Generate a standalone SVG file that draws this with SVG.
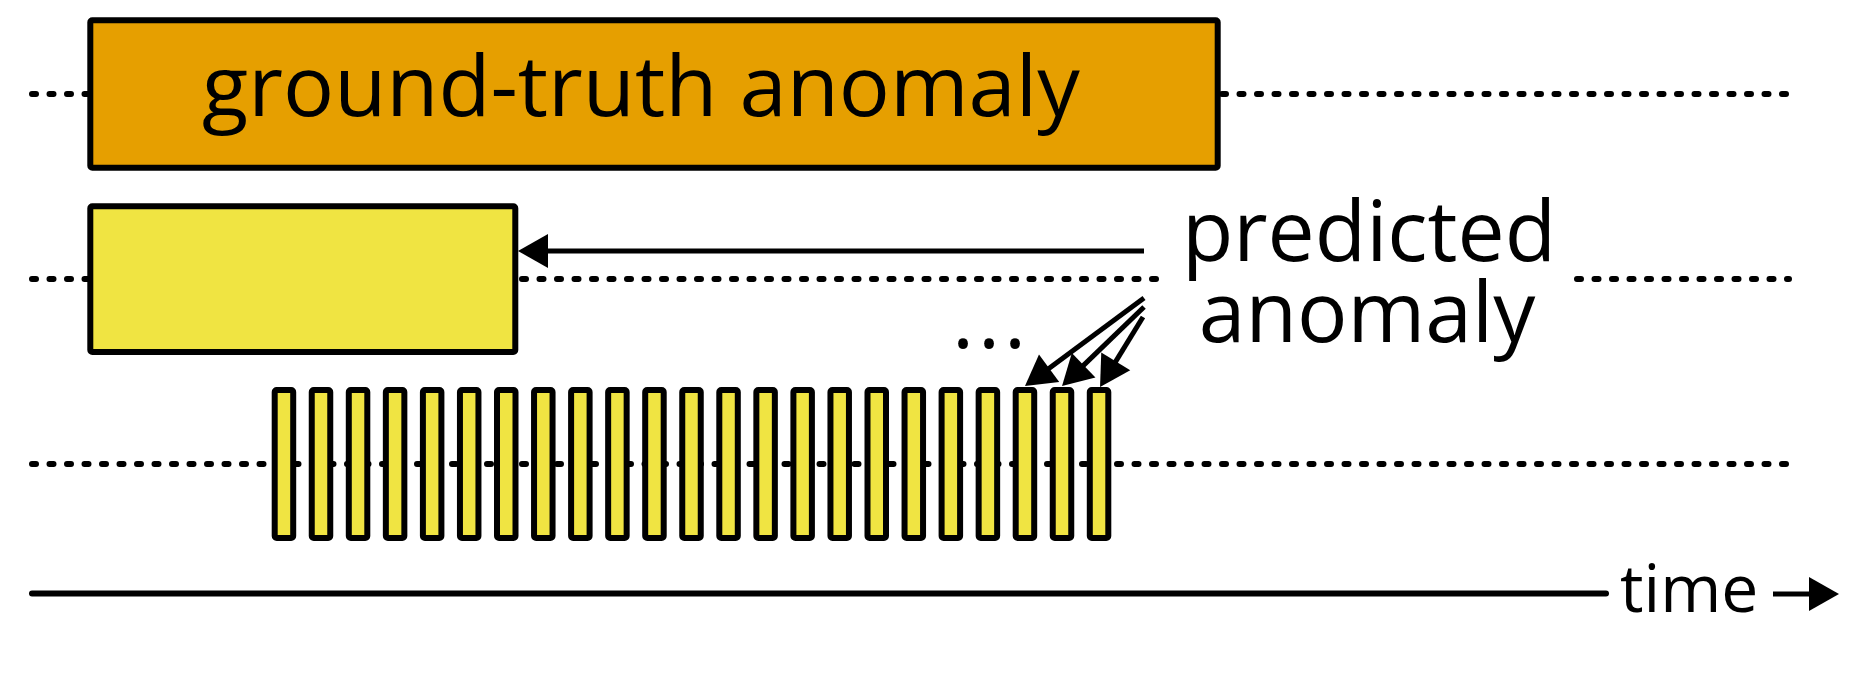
<svg xmlns="http://www.w3.org/2000/svg" width="1864" height="696" viewBox="0 0 1864 696">
<style>
.dot{fill:none;stroke:#000;stroke-width:6;stroke-linecap:round;stroke-dasharray:4 13.5}
.box{stroke:#000;stroke-width:6;stroke-linejoin:round}
.gt{fill:#E69F00}
.pr{fill:#F0E442}
.arr{fill:none;stroke:#000;stroke-width:5}
.lbl{font-family:"Open Sans","Noto Sans",sans-serif;fill:#000}
</style>
<defs>
<marker id="head" markerUnits="userSpaceOnUse" markerWidth="30" markerHeight="34" viewBox="0 0 30 34" refX="2" refY="17" orient="auto" overflow="visible">
<path d="M0,0 L30,17 L0,34 z" fill="#000"/>
</marker>
</defs>
<g id="timelines">
<line class="dot" x1="32" y1="94" x2="1789" y2="94"/>
<line class="dot" x1="32" y1="279" x2="1162" y2="279"/>
<line class="dot" x1="1577" y1="279" x2="1789" y2="279"/>
<line class="dot" x1="32" y1="464" x2="1789" y2="464"/>
</g>
<g id="ground-truth">
<rect class="box gt" x="90.3" y="20.3" width="1127.4" height="147.4" rx="2"/>
<text class="lbl" x="641" y="116" font-size="85" text-anchor="middle">ground-truth anomaly</text>
</g>
<g id="predicted-long">
<rect class="box pr" x="90.3" y="206.3" width="425" height="145.7" rx="2"/>
</g>
<g id="predicted-short">
<rect class="box pr" x="274.7" y="390" width="18.5" height="148" rx="2"/>
<rect class="box pr" x="311.75" y="390" width="18.5" height="148" rx="2"/>
<rect class="box pr" x="348.8" y="390" width="18.5" height="148" rx="2"/>
<rect class="box pr" x="385.85" y="390" width="18.5" height="148" rx="2"/>
<rect class="box pr" x="422.9" y="390" width="18.5" height="148" rx="2"/>
<rect class="box pr" x="459.95" y="390" width="18.5" height="148" rx="2"/>
<rect class="box pr" x="497" y="390" width="18.5" height="148" rx="2"/>
<rect class="box pr" x="534.05" y="390" width="18.5" height="148" rx="2"/>
<rect class="box pr" x="571.1" y="390" width="18.5" height="148" rx="2"/>
<rect class="box pr" x="608.15" y="390" width="18.5" height="148" rx="2"/>
<rect class="box pr" x="645.2" y="390" width="18.5" height="148" rx="2"/>
<rect class="box pr" x="682.25" y="390" width="18.5" height="148" rx="2"/>
<rect class="box pr" x="719.3" y="390" width="18.5" height="148" rx="2"/>
<rect class="box pr" x="756.35" y="390" width="18.5" height="148" rx="2"/>
<rect class="box pr" x="793.4" y="390" width="18.5" height="148" rx="2"/>
<rect class="box pr" x="830.45" y="390" width="18.5" height="148" rx="2"/>
<rect class="box pr" x="867.5" y="390" width="18.5" height="148" rx="2"/>
<rect class="box pr" x="904.55" y="390" width="18.5" height="148" rx="2"/>
<rect class="box pr" x="941.6" y="390" width="18.5" height="148" rx="2"/>
<rect class="box pr" x="978.65" y="390" width="18.5" height="148" rx="2"/>
<rect class="box pr" x="1015.7" y="390" width="18.5" height="148" rx="2"/>
<rect class="box pr" x="1052.75" y="390" width="18.5" height="148" rx="2"/>
<rect class="box pr" x="1089.8" y="390" width="18.5" height="148" rx="2"/>
</g>
<g id="predicted-label">
<text class="lbl" x="1369" y="261" font-size="84" text-anchor="middle">predicted</text>
<text class="lbl" x="1367" y="342" font-size="84" text-anchor="middle">anomaly</text>
</g>
<g id="ellipsis">
<text class="lbl" x="991" y="348" font-size="84" text-anchor="middle" letter-spacing="4">...</text>
</g>
<g id="connectors">
<line class="arr" x1="1144" y1="251" x2="546" y2="251" marker-end="url(#head)"/>
<line class="arr" x1="1144" y1="298" x2="1047.5" y2="369.4" marker-end="url(#head)"/>
<line class="arr" x1="1144" y1="307" x2="1082.2" y2="366.6" marker-end="url(#head)"/>
<line class="arr" x1="1143" y1="317" x2="1114.7" y2="363.1" marker-end="url(#head)"/>
</g>
<g id="time-axis">
<line x1="32" y1="593.5" x2="1606" y2="593.5" stroke="#000" stroke-width="6" stroke-linecap="round"/>
<text class="lbl" x="1620" y="612" font-size="66">time</text>
<line class="arr" x1="1773" y1="594" x2="1811" y2="594" marker-end="url(#head)"/>
</g>
</svg>
